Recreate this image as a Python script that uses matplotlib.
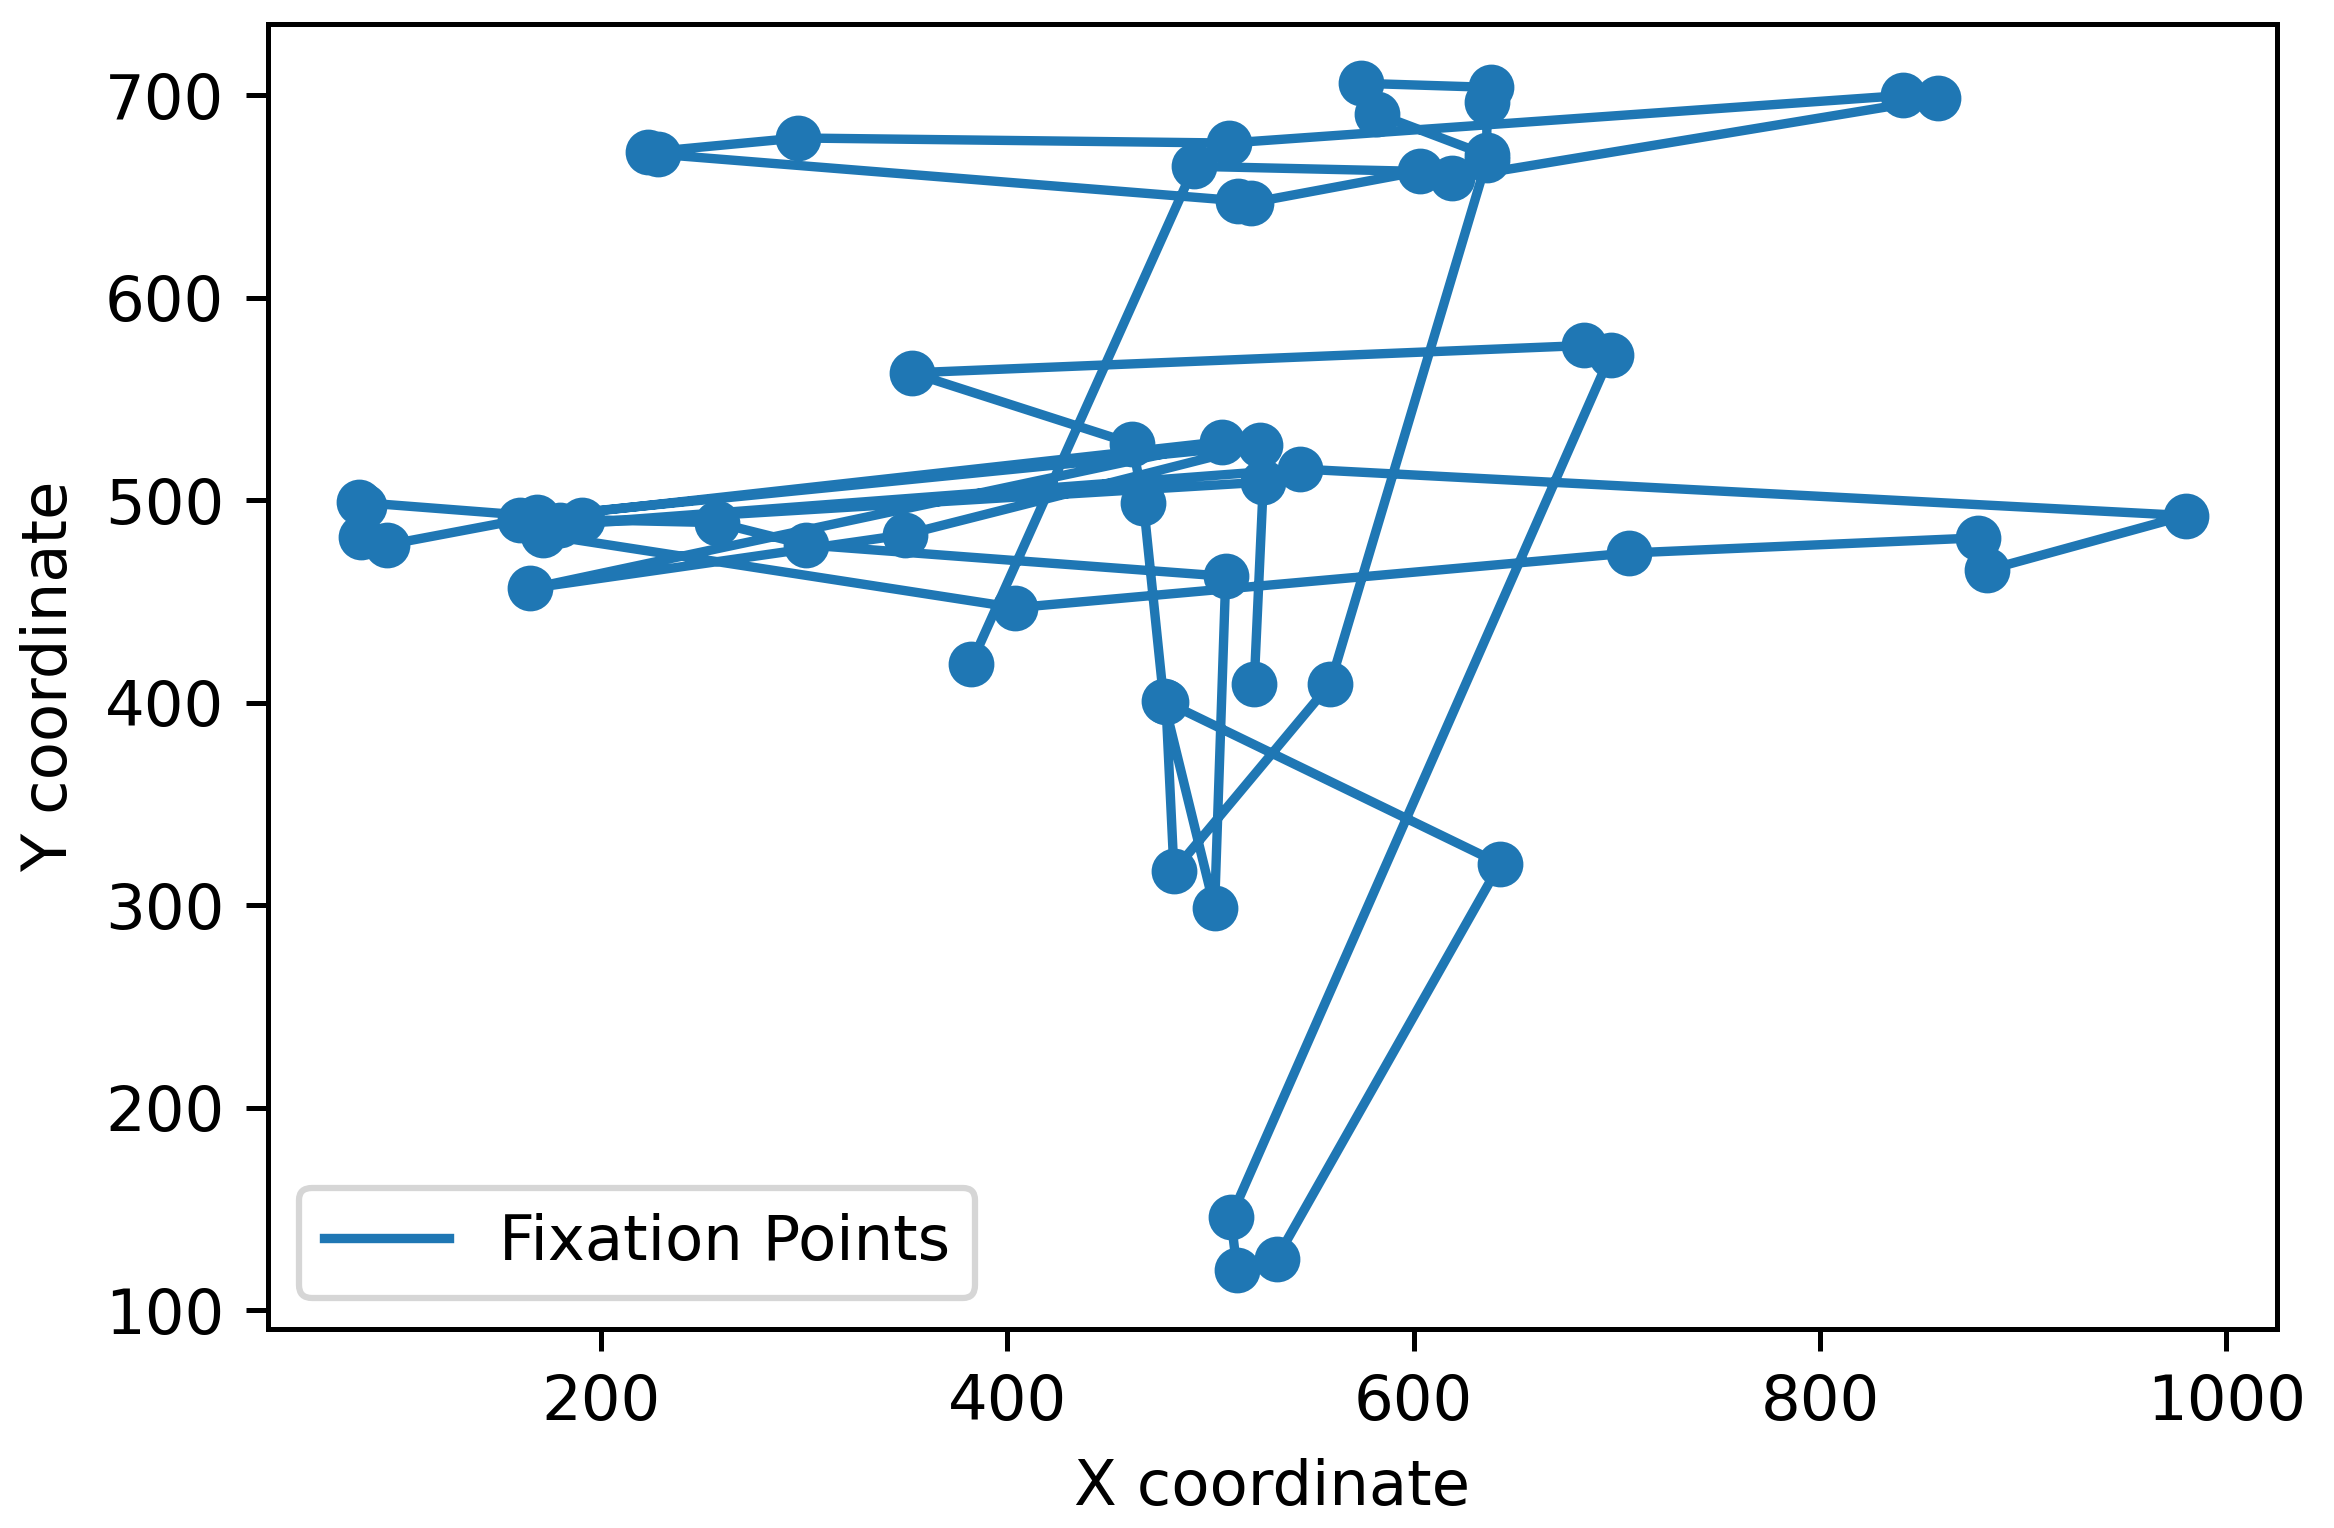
import matplotlib
matplotlib.use("Agg")
import matplotlib.pyplot as plt

# fixation points in viewing order
x = [382, 492, 603, 520, 513.5, 228, 223, 297, 509, 841, 858, 619, 636, 582, 574,
     638, 636, 636, 559, 482, 478, 642.5, 532.5, 513, 510, 697, 684, 353, 461.5, 467,
     477, 502, 507.5, 301, 257, 190.5, 81, 83.5, 82, 94.5, 168.5, 524.5, 349.5, 165,
     505.5, 160, 171.5, 404, 706, 878, 882, 980, 544, 180, 526, 521.5]
y = [419, 665, 662.5, 647, 648, 671, 672, 679, 676.5, 700, 698.5, 659, 670.5, 691, 706,
     704, 697, 668, 409.5, 317, 400.5, 320.5, 125.5, 120, 146, 572, 576.5, 563, 528, 498.5,
     401, 298.5, 462.5, 478, 489, 490.5, 499, 497, 482, 478, 492, 527.5, 483, 456.5,
     529, 490.5, 483, 447, 474, 481.5, 465.5, 492.5, 515.5, 488, 509, 409.5]

fig = plt.figure(figsize=(2334 / 450, 1528 / 450), dpi=450)
ax = fig.add_axes([0.1148, 0.1302, 0.8608, 0.8541])

ax.plot(x, y, color='C0', label='Fixation Points')
ax.scatter(x, y, color='C0', s=40, zorder=3)

ax.set_xlabel('X coordinate')
ax.set_ylabel('Y coordinate')
ax.legend(loc='lower left')

fig.savefig('out.png', dpi=450)
